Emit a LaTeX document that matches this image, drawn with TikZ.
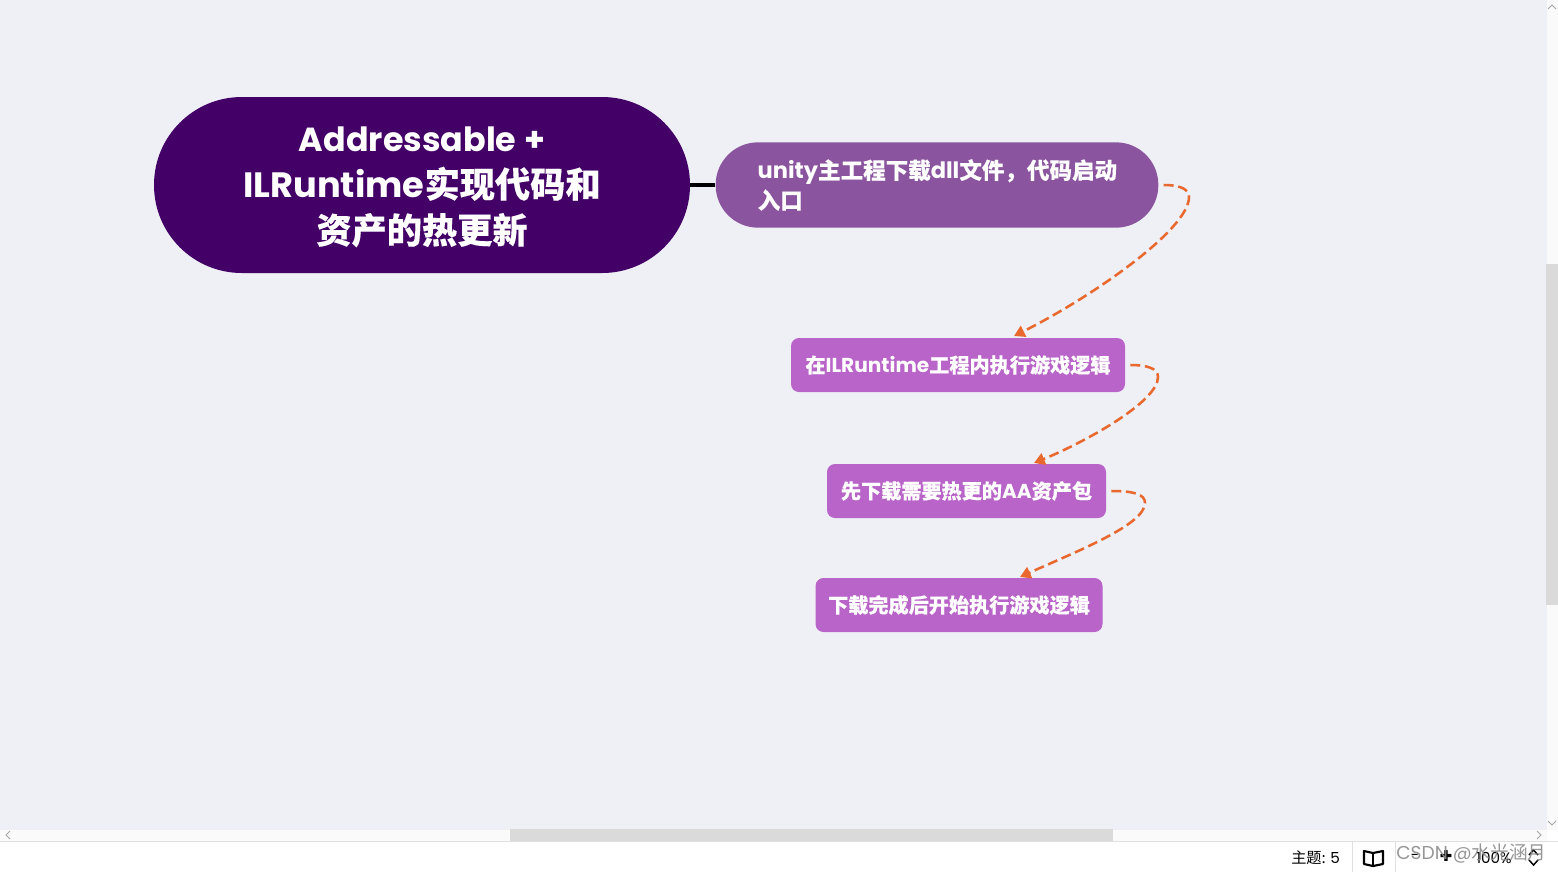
\documentclass[tikz,border=0pt]{standalone}
\usepackage{fontspec}
\setmainfont{Poppins}
\newfontfamily\cjk{Noto Sans CJK SC}[BoldFeatures={FakeBold=0.25}]
\usetikzlibrary{arrows.meta}
\definecolor{paper}{HTML}{EEF0F6}
\definecolor{rootfill}{HTML}{430067}
\definecolor{topicfill}{HTML}{8A559E}
\definecolor{subfill}{HTML}{B964C8}
\definecolor{relcolor}{HTML}{E8682E}
\definecolor{trackgray}{HTML}{FAFAFA}
\definecolor{thumbgray}{HTML}{DADADA}
\newcommand{\zh}[1]{{\cjk #1}}
\tikzset{
    x=0.75pt, y=-0.75pt,
    rootnode/.style={fill=rootfill, text=white, rounded corners=65.9pt, minimum width=402pt, minimum height=132pt,
        align=center, text width=300pt, font=\bfseries\fontsize{26.4}{34.5}\selectfont, inner sep=0pt},
    topicnode/.style={fill=topicfill, text=white, rounded corners=31.8pt, minimum width=332pt, minimum height=64pt,
        align=left, text width=269pt, font=\bfseries\fontsize{16.9}{22.5}\selectfont, inner sep=0pt},
    subnode/.style={fill=subfill, text=white, rounded corners=6pt, minimum height=40.5pt,
        font=\bfseries\fontsize{15.1}{18}\selectfont, inner sep=0pt},
    rootline/.style={line width=2.6pt, black},
    relline/.style={relcolor, line width=1.9pt, dash pattern=on 7.5pt off 3.5pt,
        -{Triangle[length=8pt,width=9pt]}},
    statustext/.style={inner sep=0pt, font=\fontsize{11.4}{13}\selectfont, text=black},
    chevron/.style={draw=gray!70, line width=0.7pt},
}
\begin{document}
\begin{tikzpicture}
    \useasboundingbox (0,0) rectangle (1558,872);
    % window
    \fill[paper] (0,0) rectangle (1547,830);
    \fill[trackgray] (1547,0) rectangle (1558,830);
    \fill[trackgray] (0,830) rectangle (1547,841);
    \fill[thumbgray] (1546,264) rectangle (1558,605);
    \fill[thumbgray] (510,829) rectangle (1113,841);
    \fill[white] (0,841) rectangle (1558,872);
    \draw[black!12, line width=0.75pt] (0,841) -- (1558,841);
    \draw[black!12, line width=0.75pt] (1352,841) -- (1352,872);
    \draw[black!12, line width=0.75pt] (1395,841) -- (1395,872);
    \draw[chevron] (10,831) -- (6,835) -- (10,839);
    \draw[chevron] (1537,831) -- (1541,835) -- (1537,839);
    \draw[chevron] (1548,9) -- (1552,5) -- (1556,9);
    \draw[chevron] (1548,821) -- (1552,825) -- (1556,821);

    % mind map
    \node[rootnode] (root) at (422,185) {\rule{0pt}{21.5pt}{\fontsize{25}{34.5}\selectfont Addressable\hspace{-3pt} +}\\ILRuntime\zh{实现代码和}\\\zh{资产的热更新}};
    \node[topicnode] (topic) at (937,185) {unity\zh{主工程下载}dll\zh{文件，代码启动}\\\zh{入口}};
    \node[subnode, minimum width=250.5pt] (stepa) at (958,365) {\zh{在}ILRuntime\zh{工程内执行游戏逻辑}};
    \node[subnode, minimum width=209.25pt] (stepb) at (966.5,491) {\zh{先下载需要热更的}AA\zh{资产包}};
    \node[subnode, minimum width=215.25pt] (stepc) at (959,605) {\zh{下载完成后开始执行游戏逻辑}};

    \draw[rootline] (root) -- (topic);

    \coordinate (benda) at (1189,197);
    \coordinate (bendb) at (1158,377);
    \coordinate (bendc) at (1145,503);
    \coordinate (enda) at (1014,336);
    \coordinate (endb) at (1034,463);
    \coordinate (endc) at (1020,577);
    \draw[relline] ([xshift=3.75pt]topic.east) .. controls +(14,0) and (1189,188) .. (benda)
        .. controls (1189,230) and (1090,298) .. (enda);
    \draw[relline] ([xshift=3.75pt]stepa.east) .. controls +(16,0) and (1158,368) .. (bendb)
        .. controls (1158,402) and (1085,442) .. (endb);
    \draw[relline] ([xshift=3.75pt]stepb.east) .. controls +(22,0) and (1145,494) .. (bendc)
        .. controls (1145,525) and (1075,552) .. (endc);

    % status bar
    \node[statustext, anchor=west] (topiccount) at (1291,858) {\zh{主题: }5};
    \draw[black, line width=1.6pt, line join=round] (1364,851) -- (1373,853) -- (1383,851) -- (1383,864) -- (1373,866) -- (1364,864) -- cycle;
    \draw[black, line width=1.6pt] (1373,853) -- (1373,866);
    \node[statustext] (zoomout) at (1415,857) {-};
    \node[statustext, font=\bfseries\fontsize{16}{16}\selectfont] (zoomin) at (1446,857) {+};
    \node[statustext, anchor=west] (zoomvalue) at (1476,858) {100\%};
    \draw[black, line width=1.1pt] (1529,855) -- (1533.5,850) -- (1538,855);
    \draw[black, line width=1.1pt] (1529,860) -- (1533.5,865) -- (1538,860);
    \node[inner sep=0pt, anchor=west, text=black!45, font=\fontsize{14}{16}\selectfont, opacity=0.9] (mark) at (1396,853) {CSDN @\zh{水光涵月}};
\end{tikzpicture}
\end{document}
